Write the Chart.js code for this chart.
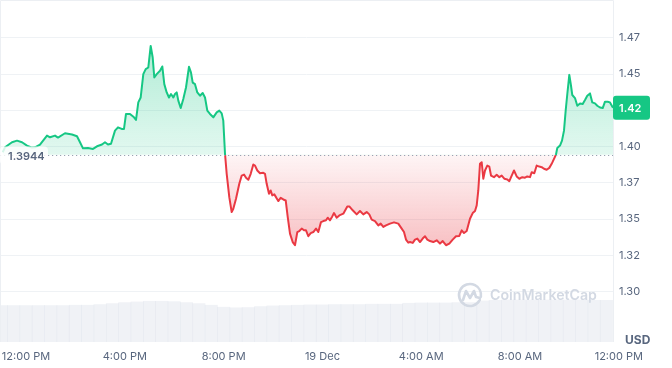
<!DOCTYPE html>
<html><head><meta charset="utf-8">
<script src="https://cdn.jsdelivr.net/npm/chart.js@4.4.1/dist/chart.umd.min.js"></script>
<style>html,body{margin:0;padding:0;background:#fff;}canvas{display:block;}</style>
</head><body>
<canvas id="c" width="672" height="368"></canvas>
<script>
// ---- data (hours: 12 = 12:00 PM 18 Dec, 36 = 12:00 PM 19 Dec) ----
const times = [
11.056,11.149,11.433,11.635,11.838,12.040,12.243,12.364,12.566,12.850,12.971,13.174,13.295,13.579,13.862,14.064,14.186,14.307,14.510,14.712,14.874,15.077,15.198,15.319,15.441,
15.603,15.724,15.874,15.967,16.048,16.210,16.372,16.453,16.546,16.643,16.749,16.846,16.951,17.048,17.129,17.194,17.291,17.425,17.518,17.599,17.696,17.789,17.870,17.963,18.032,18.101,18.166,18.263,18.368,18.477,18.599,18.680,18.749,18.842,18.935,19.044,19.153,19.247,19.340,19.449,19.583,19.720,19.826,19.923,19.987,20.056,
20.125,20.230,20.327,20.393,20.502,20.635,20.733,20.826,20.907,21.000,21.097,21.202,21.271,21.364,21.473,21.607,21.676,21.744,21.838,21.906,21.971,22.052,22.121,22.214,22.311,22.417,22.514,22.595,22.688,22.797,22.890,22.984,23.065,23.162,23.255,23.336,23.429,23.526,23.631,23.741,23.834,23.943,24.036,24.145,24.214,24.307,24.400,24.469,24.578,24.684,
24.846,25.008,25.089,25.227,25.388,25.522,25.656,25.793,25.898,25.996,26.129,26.263,26.360,26.465,26.575,26.737,26.899,27.072,27.210,27.303,27.384,27.477,27.546,27.656,27.749,27.842,27.951,28.060,28.154,28.247,28.356,28.489,28.627,28.761,28.870,29.004,29.137,29.275,29.409,29.542,29.640,29.733,29.842,29.975,30.085,30.178,30.247,30.311,30.380,
30.449,30.514,30.583,30.676,30.757,30.826,30.947,31.056,31.162,31.259,31.364,31.486,31.567,31.664,31.757,31.866,31.972,32.093,32.202,32.295,32.405,32.473,32.579,32.676,32.781,32.878,32.971,33.080,33.186,33.283,33.376,33.457,33.510,33.619,33.700,33.781,33.849,33.915,33.996,34.065,34.117,34.226,34.320,34.429,34.538,34.631,34.724,34.834,34.927,35.036,35.129,35.239,35.348,35.441,35.550,35.643,35.765
];
const prices = [
1.3961,1.3995,1.4030,1.4041,1.4030,1.4007,1.3993,1.3995,1.4014,1.4076,1.4064,1.4076,1.4062,1.4092,1.4083,1.4071,1.4030,1.3988,1.3990,1.3984,1.4002,1.4014,1.4030,1.4014,1.4019,
1.4110,1.4133,1.4122,1.4122,1.4225,1.4225,1.4202,1.4184,1.4305,1.4339,1.4500,1.4535,1.4546,1.4695,1.4615,1.4477,1.4500,1.4523,1.4553,1.4431,1.4374,1.4339,1.4363,1.4339,1.4363,1.4374,1.4317,1.4266,1.4328,1.4408,1.4551,1.4511,1.4442,1.4431,1.4374,1.4351,1.4370,1.4339,1.4248,1.4225,1.4202,1.4236,1.4248,1.4229,1.4179,1.3952,
1.3812,1.3651,1.3548,1.3571,1.3640,1.3743,1.3800,1.3807,1.3785,1.3771,1.3812,1.3876,1.3869,1.3835,1.3816,1.3819,1.3812,1.3743,1.3675,1.3697,1.3663,1.3670,1.3651,1.3624,1.3647,1.3635,1.3628,1.3514,1.3399,1.3341,1.3319,1.3410,1.3417,1.3434,1.3422,1.3422,1.3381,1.3403,1.3410,1.3434,1.3410,1.3479,1.3486,1.3491,1.3509,1.3491,1.3518,1.3541,1.3509,1.3525,
1.3537,1.3587,1.3587,1.3560,1.3532,1.3555,1.3532,1.3548,1.3532,1.3496,1.3486,1.3456,1.3468,1.3445,1.3456,1.3468,1.3477,1.3468,1.3434,1.3410,1.3358,1.3337,1.3341,1.3335,1.3358,1.3365,1.3341,1.3365,1.3381,1.3358,1.3348,1.3341,1.3353,1.3330,1.3348,1.3319,1.3330,1.3358,1.3381,1.3383,1.3422,1.3403,1.3417,1.3502,1.3541,1.3555,1.3594,1.3697,1.3881,
1.3892,1.3778,1.3835,1.3869,1.3862,1.3800,1.3789,1.3805,1.3789,1.3800,1.3778,1.3773,1.3761,1.3800,1.3835,1.3794,1.3778,1.3789,1.3785,1.3794,1.3789,1.3823,1.3816,1.3869,1.3862,1.3858,1.3847,1.3840,1.3853,1.3881,1.3915,1.3945,1.3991,1.4007,1.4041,1.4110,1.4248,1.4363,1.4495,1.4420,1.4356,1.4335,1.4282,1.4298,1.4294,1.4321,1.4351,1.4367,1.4305,1.4298,1.4282,1.4270,1.4266,1.4310,1.4310,1.4305,1.4268
];
const baseline = 1.3944;
const baselineLabel = '1.3944';
const lastPriceLabel = '1.42';
const currencyLabel = 'USD';
const watermarkText = 'CoinMarketCap';
const xTickHours = [12, 16, 20, 24, 28, 32, 36];
const xTickLabels = ['12:00 PM', '4:00 PM', '8:00 PM', '19 Dec', '4:00 AM', '8:00 AM', '12:00 PM'];
const yTickValues = [1.30, 1.325, 1.35, 1.375, 1.40, 1.425, 1.45, 1.475];
const yTickLabels = ['1.30', '1.32', '1.35', '1.37', '1.40', '1.42', '1.45', '1.47'];
const volumeHours = [11,11.5,12,12.5,13,13.5,14,14.5,15,15.5,16,16.5,17,17.5,18,18.5,19,19.5,20,20.5,21,21.5,22,22.5,23,23.5,24,24.5,25,25.5,26,26.5,27,27.5,28,28.5,29,29.5,30,30.5,31,31.5,32,32.5,33,33.5,34,34.5,35,35.5];
const volumes = [112,112,112,112,112,112,113,113,115,118,121,123,125,125,124,121,118,113,107,105,106,109,111,112,113,114,114,115,115,115,116,116,116,119,120,120,120,121,121,126,128,129,129,129,129,129,129,129,128,128];

// ---- styles ----
const GREEN = '#16c784', RED = '#ea3943';
const TEXT = '#58667e', GRID = '#eff2f5', WM = '#d3d9e3';
const FONT = 'Inter, "Noto Sans", sans-serif';

function lineColor(c) {
  const chart = c.chart, a = chart.chartArea;
  if (!a) return GREEN;
  const yb = chart.scales.y.getPixelForValue(baseline);
  const f = Math.min(1, Math.max(0, (yb - a.top) / (a.bottom - a.top)));
  const g = chart.ctx.createLinearGradient(0, a.top, 0, a.bottom);
  g.addColorStop(0, GREEN); g.addColorStop(f, GREEN);
  g.addColorStop(f, RED); g.addColorStop(1, RED);
  return g;
}
function fillColor(c) {
  const chart = c.chart, a = chart.chartArea;
  if (!a) return 'rgba(22,199,132,0.2)';
  const y = chart.scales.y;
  const H = a.bottom - a.top;
  const fb = (y.getPixelForValue(baseline) - a.top) / H;
  const fl = (y.getPixelForValue(1.33) - a.top) / H;
  const g = chart.ctx.createLinearGradient(0, a.top, 0, a.bottom);
  g.addColorStop(0, 'rgba(22,199,132,0.42)');
  g.addColorStop(fb, 'rgba(22,199,132,0.12)');
  g.addColorStop(fb, 'rgba(234,57,67,0.05)');
  g.addColorStop(fl, 'rgba(234,57,67,0.32)');
  g.addColorStop(1, 'rgba(234,57,67,0.36)');
  return g;
}

const deco = {
  id: 'deco',
  beforeDatasetDraw(chart, args) {
    if (args.index !== 0) return;
    const {ctx, chartArea: a} = chart;
    ctx.save();
    const cy = a.bottom - 47;
    const cx = a.right - 143;
    ctx.strokeStyle = WM; ctx.lineWidth = 2.6; ctx.lineCap = 'round'; ctx.lineJoin = 'round';
    ctx.beginPath(); ctx.arc(cx, cy, 11, 0.15 * Math.PI, 2.05 * Math.PI); ctx.stroke();
    ctx.beginPath();
    ctx.moveTo(cx - 7, cy + 5); ctx.lineTo(cx - 4, cy - 4); ctx.lineTo(cx, cy + 3);
    ctx.lineTo(cx + 4, cy - 4); ctx.lineTo(cx + 6, cy + 2); ctx.lineTo(cx + 10, cy + 3);
    ctx.stroke();
    let size = 16;
    ctx.font = '600 ' + size + 'px ' + FONT;
    const w = ctx.measureText(watermarkText).width;
    size = size * 107 / w;
    ctx.font = '600 ' + size.toFixed(2) + 'px ' + FONT;
    ctx.fillStyle = WM; ctx.textAlign = 'left'; ctx.textBaseline = 'middle';
    ctx.fillText(watermarkText, a.right - 123, cy + 1);
    ctx.restore();
  },
  afterDatasetsDraw(chart) {
    const {ctx, chartArea: a, scales: {y}} = chart;
    ctx.save();
    // chart frame
    ctx.strokeStyle = '#eceff3'; ctx.lineWidth = 1;
    ctx.beginPath();
    ctx.moveTo(0.5, a.bottom); ctx.lineTo(0.5, a.top - 0.5); ctx.lineTo(a.right + 0.5, a.top - 0.5); ctx.lineTo(a.right + 0.5, a.bottom);
    ctx.stroke();
    // dotted baseline
    const yb = Math.round(y.getPixelForValue(baseline)) + 0.5;
    ctx.strokeStyle = '#9aa3b2'; ctx.lineWidth = 1.2; ctx.setLineDash([1.2, 2.8]);
    ctx.beginPath(); ctx.moveTo(a.left, yb); ctx.lineTo(a.right, yb); ctx.stroke();
    ctx.setLineDash([]);
    // baseline label
    ctx.fillStyle = 'rgba(255,255,255,0.82)';
    ctx.beginPath(); ctx.roundRect(a.left, yb - 9, 48, 18, 4); ctx.fill();
    ctx.fillStyle = TEXT; ctx.font = '600 11px ' + FONT; ctx.textAlign = 'left'; ctx.textBaseline = 'middle';
    ctx.fillText(baselineLabel, a.left + 8, yb + 1);
    // last price badge
    const yl = y.getPixelForValue(prices[prices.length - 1]);
    ctx.fillStyle = GREEN;
    ctx.beginPath(); ctx.roundRect(a.right, yl - 12, 37, 24, 3); ctx.fill();
    ctx.fillStyle = '#ffffff'; ctx.font = '600 11px ' + FONT;
    ctx.fillText(lastPriceLabel, a.right + 6, yl + 0.5);
    // currency
    ctx.fillStyle = TEXT; ctx.font = '700 12px ' + FONT; ctx.textAlign = 'left';
    ctx.fillText(currencyLabel, a.right + 12, a.bottom - 2);
    ctx.restore();
  }
};

new Chart(document.getElementById('c'), {
  type: 'line',
  data: {
    datasets: [
      {
        type: 'line',
        data: times.map((t, i) => ({x: t, y: prices[i]})),
        yAxisID: 'y',
        order: 1,
        borderColor: lineColor,
        backgroundColor: fillColor,
        borderWidth: 2,
        borderJoinStyle: 'round',
        pointRadius: 0,
        tension: 0,
        fill: {target: {value: baseline}}
      },
      {
        type: 'bar',
        data: volumeHours.map((t, i) => ({x: t, y: volumes[i]})),
        yAxisID: 'yv',
        order: 2,
        backgroundColor: 'rgba(207,214,228,0.32)',
        borderWidth: 0,
        barPercentage: 1,
        categoryPercentage: 1
      }
    ]
  },
  options: {
    responsive: false,
    devicePixelRatio: 1,
    animation: false,
    layout: {padding: {top: 1, left: 0, right: 0, bottom: 0}},
    plugins: {legend: {display: false}, tooltip: {enabled: false}},
    scales: {
      x: {
        type: 'linear', min: 10.947, max: 35.765, offset: false,
        grid: {display: false, drawTicks: false},
        border: {display: false},
        ticks: {
          autoSkip: false, maxRotation: 0, padding: 8, color: TEXT,
          font: {family: FONT, size: 11},
          callback: (v, i) => xTickLabels[i]
        },
        afterBuildTicks: s => { s.ticks = xTickHours.map(v => ({value: v})); },
        afterFit: s => { s.height = 26; s.paddingLeft = 0; s.paddingRight = 0; }
      },
      y: {
        type: 'linear', position: 'right', min: 1.2651, max: 1.5005,
        grid: {color: GRID, drawTicks: false},
        border: {display: false},
        ticks: {
          padding: 6, color: TEXT,
          font: {family: FONT, size: 11},
          callback: (v, i) => yTickLabels[i]
        },
        afterBuildTicks: s => { s.ticks = yTickValues.map(v => ({value: v})); },
        afterFit: s => { s.width = 59; s.paddingTop = 0; s.paddingBottom = 0; }
      },
      yv: {display: false, min: 0, max: 1047}
    }
  },
  plugins: [deco]
});
</script>
</body></html>
